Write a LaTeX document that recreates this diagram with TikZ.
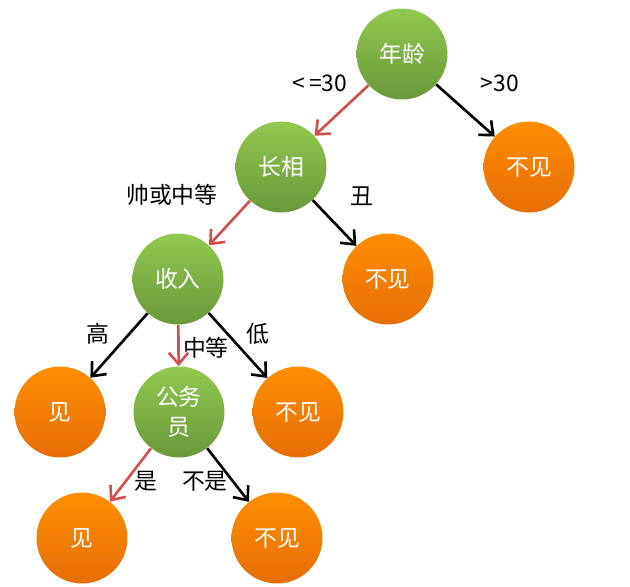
\documentclass[tikz,border=0pt]{standalone}
\usepackage{fontspec}
\setmainfont{Noto Sans CJK SC}
\usetikzlibrary{arrows.meta}
\definecolor{greentop}{RGB}{146,200,80}
\definecolor{greenbot}{RGB}{106,152,58}
\definecolor{orangetop}{RGB}{255,142,0}
\definecolor{orangebot}{RGB}{230,110,8}
\definecolor{pathred}{RGB}{208,80,78}
\begin{document}
\begin{tikzpicture}[x=0.02cm, y=-0.02cm,
    test/.style={circle, minimum size=1.82cm, inner sep=0pt, top color=greentop, bottom color=greenbot, text=white, align=center, font=\fontsize{13}{17}\selectfont},
    leaf/.style={circle, minimum size=1.82cm, inner sep=0pt, top color=orangetop, bottom color=orangebot, text=white, font=\fontsize{13}{17}\selectfont},
    chosen/.style={draw=pathred, line width=1.5pt, -{Straight Barb[length=6.5pt,width=11pt]}},
    other/.style={draw=black, line width=1.5pt, -{Straight Barb[length=6.5pt,width=11pt]}},
    lbl/.style={font=\fontsize{13}{15}\selectfont}]
    \useasboundingbox (0,0) rectangle (630,587);
    % tree nodes
    \node[test] (age) at (402,54) {年龄};
    \node[leaf] (old) at (529,167) {不见};
    \node[test] (looks) at (281,167) {长相};
    \node[leaf] (ugly) at (388,279) {不见};
    \node[test] (income) at (178,279) {收入};
    \node[leaf] (high) at (60,412) {见};
    \node[test] (civil) at (179,412) {公务\\员};
    \node[leaf] (low) at (298,412) {不见};
    \node[leaf] (yes) at (82,538) {见};
    \node[leaf] (notyes) at (277,538) {不见};
    % branches
    \draw[chosen] (age) -- (looks);
    \draw[other] (age) -- (old);
    \draw[chosen] (looks) -- (income);
    \draw[other] (looks) -- (ugly);
    \draw[other] (income) -- (high);
    \draw[chosen] (income) -- (civil);
    \draw[other] (income) -- (low);
    \draw[chosen] (civil) -- (yes);
    \draw[other] (civil) -- (notyes);
    % branch labels
    \node[lbl] (l1) at (320,83) {<\,=30};
    \node[lbl] (l2) at (500,83) {>30};
    \node[lbl] (l3) at (172,195) {帅或中等};
    \node[lbl] (l4) at (362,196) {丑};
    \node[lbl] (l5) at (98,334) {高};
    \node[lbl] (l6) at (206,348) {中等};
    \node[lbl] (l7) at (258,334) {低};
    \node[lbl] (l8) at (146,481) {是};
    \node[lbl] (l9) at (205,481) {不是};
\end{tikzpicture}
\end{document}
